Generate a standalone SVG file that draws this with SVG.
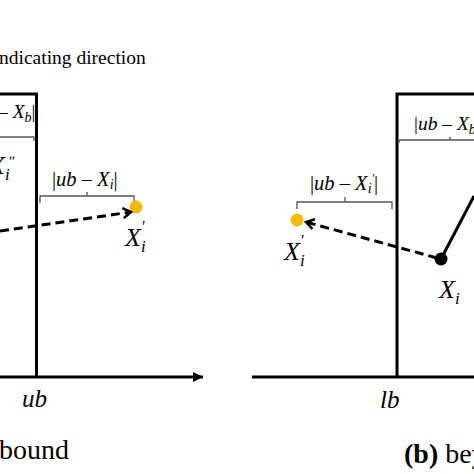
<svg xmlns="http://www.w3.org/2000/svg" width="474" height="474" viewBox="0 0 474 474" font-family="'Liberation Serif', 'DejaVu Serif', serif">
<defs>
<style>
.thick{stroke:#000;stroke-width:3;fill:none}
.brk{stroke:#555;stroke-width:1.3;fill:none}
.dash{stroke:#000;stroke-width:3;fill:none;stroke-dasharray:9 5}
.math{font-style:italic;fill:#000}
.gold{fill:#F6B80C}
</style>
<marker id="open" viewBox="0 0 12 12" refX="10" refY="6" markerWidth="12" markerHeight="12" markerUnits="userSpaceOnUse" orient="auto">
<path d="M2,1 L10,6 L2,11" fill="none" stroke="#000" stroke-width="2.5"/>
</marker>
<marker id="solid" viewBox="0 0 10 10" refX="10" refY="5" markerWidth="11" markerHeight="10" markerUnits="userSpaceOnUse" orient="auto">
<path d="M0,0 L10,5 L0,10 Z" fill="#000"/>
</marker>
</defs>
<rect width="474" height="474" fill="#fff"/>

<g id="left-panel">
<text x="-1" y="64" font-size="19.5">ndicating direction</text>
<path class="thick" d="M0,94 H36.5 V377"/>
<g id="left-axis"><path class="thick" d="M0,377 H203" marker-end="url(#solid)"/></g>
<text class="math" x="22" y="407" font-size="25">ub</text>
<text x="-1" y="459" font-size="28">bound</text>
<g id="left-top-bracket">
<text class="math" x="-2" y="118" font-size="19.5"><tspan font-style="normal">– </tspan>X<tspan font-size="14" dy="4">b</tspan><tspan font-style="normal" dy="-4">|</tspan></text>
<path class="brk" d="M0,137 H34 V141"/>
</g>
<g id="node-xi2">
<text class="math" x="-11" y="174" font-size="26">X<tspan font-size="17" dy="6">i</tspan></text>
<text class="math" x="8" y="166" font-size="15">ʺ</text>
</g>
<g id="left-bracket">
<text class="math" x="52" y="186" font-size="20.5"><tspan font-style="normal">|</tspan>ub <tspan font-style="normal">–</tspan> X<tspan font-size="14" dy="3">i</tspan><tspan font-style="normal" dy="-3">|</tspan></text>
<path class="brk" d="M40,203 V196 H134 V203 M87,196 V192"/>
</g>
<g id="node-xi-prime-left">
<circle class="gold" cx="136" cy="207" r="6.5"/>
<text class="math" x="125" y="246" font-size="26">X<tspan font-size="17" dy="6">i</tspan></text>
<text class="math" x="141" y="232" font-size="16">ʹ</text>
</g>
</g>

<g id="right-panel">
<path class="thick" d="M474,94 H397 V377"/>
<g id="right-axis"><path class="thick" d="M252,377 H474"/></g>
<text class="math" x="380" y="408" font-size="25">lb</text>
<text x="404" y="463" font-size="28"><tspan font-weight="bold">(b)</tspan> bey</text>
<g id="right-top-bracket">
<text class="math" x="414" y="130" font-size="19.5"><tspan font-style="normal">|</tspan>ub <tspan font-style="normal">–</tspan> X<tspan font-size="14" dy="4">b</tspan></text>
<path class="brk" d="M399,143 V140 H474 M450,140 V137"/>
</g>
<g id="right-bracket">
<text class="math" x="310" y="190" font-size="20.5"><tspan font-style="normal">|</tspan>ub <tspan font-style="normal">–</tspan> X<tspan font-size="14" dy="3">i</tspan><tspan font-size="12" dy="-11">ʹ</tspan><tspan font-style="normal" dy="8">|</tspan></text>
<path class="brk" d="M297,209 V202 H392 V209 M345,202 V197"/>
</g>
<g id="node-xi-prime-right">
<circle class="gold" cx="297" cy="220" r="6.5"/>
<text class="math" x="284" y="260" font-size="26">X<tspan font-size="17" dy="6">i</tspan></text>
<text class="math" x="300" y="246" font-size="16">ʹ</text>
</g>
<g id="node-xi">
<circle cx="441" cy="259" r="6.5" fill="#000"/>
<text class="math" x="439" y="298" font-size="26">X<tspan font-size="17" dy="6">i</tspan></text>
</g>
</g>

<g id="connectors">
<path class="dash" d="M0,231 L131,212" marker-end="url(#open)"/>
<path class="dash" d="M437,258 L306,222" marker-end="url(#open)"/>
<path class="thick" d="M441,259 L474,196"/>
</g>
</svg>
